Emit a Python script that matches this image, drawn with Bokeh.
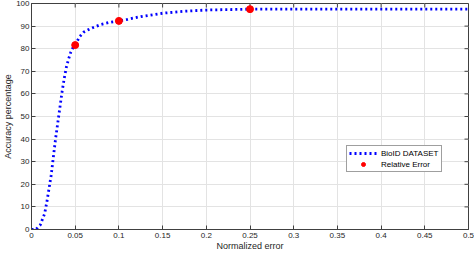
import math
from bokeh.plotting import figure
from bokeh.models import FixedTicker, Range1d, Legend, LegendItem
from bokeh.embed import file_html
from bokeh.resources import INLINE

# Curve data
err = [0, 0.005, 0.01, 0.015, 0.0175, 0.02, 0.0225, 0.025, 0.0275, 0.03, 0.0325,
       0.035, 0.0375, 0.04, 0.0425, 0.045, 0.0475, 0.05, 0.055, 0.06, 0.065, 0.07,
       0.08, 0.09, 0.1, 0.11, 0.125, 0.15, 0.175, 0.2, 0.225, 0.25, 0.3, 0.35,
       0.4, 0.45, 0.5]
acc = [0, 0, 2, 7, 12, 18, 24, 32, 40, 47, 54, 61, 67, 72, 75.5, 78.5, 80.5,
       81.6, 85.3, 87.4, 88.4, 89.3, 90.8, 91.7, 92.3, 93.0, 94.2, 95.7, 96.6,
       97.1, 97.3, 97.5, 97.5, 97.5, 97.5, 97.5, 97.5]

# Relative error markers
rel_x = [0.05, 0.1, 0.25]
rel_y = [81.6, 92.3, 97.5]

x_ticks = [0, 0.05, 0.1, 0.15, 0.2, 0.25, 0.3, 0.35, 0.4, 0.45, 0.5]
x_tick_labels = ["0", "0.05", "0.1", "0.15", "0.2", "0.25", "0.3", "0.35", "0.4", "0.45", "0.5"]
y_ticks = [0, 10, 20, 30, 40, 50, 60, 70, 80, 90, 100]
y_tick_labels = ["0", "10", "20", "30", "40", "50", "60", "70", "80", "90", "100"]

FONT = "Liberation Sans"
TXT = "#262626"
AX = "#404040"

p = figure(width=474, height=253, output_backend="svg", toolbar_location=None,
           x_range=Range1d(0, 0.5), y_range=Range1d(0, 100),
           min_border_left=28, min_border_right=6, min_border_top=3, min_border_bottom=22,
           x_axis_label="Normalized error", y_axis_label="Accuracy percentage")
p.background_fill_color = "white"
p.border_fill_color = "white"
p.outline_line_color = AX
p.outline_line_width = 1

for ax, ticks, labels in ((p.xaxis[0], x_ticks, x_tick_labels), (p.yaxis[0], y_ticks, y_tick_labels)):
    ax.ticker = FixedTicker(ticks=ticks)
    ax.major_label_overrides = {t: l for t, l in zip(ticks, labels)}
    ax.major_tick_in = 4
    ax.major_tick_out = 0
    ax.minor_tick_in = 0
    ax.minor_tick_out = 0
    ax.axis_line_color = AX
    ax.major_tick_line_color = AX
    ax.major_label_text_font = FONT
    ax.major_label_text_font_size = "8px"
    ax.major_label_text_color = TXT
    ax.axis_label_text_font = FONT
    ax.axis_label_text_font_size = "9px"
    ax.axis_label_text_font_style = "normal"
    ax.axis_label_text_color = TXT

p.xaxis.major_label_standoff = 3
p.xaxis.axis_label_standoff = 0
p.yaxis.major_label_standoff = 2
p.yaxis.axis_label_standoff = 0

p.grid.grid_line_color = "#e3e3e3"
p.grid.grid_line_width = 1
p.xgrid.ticker = FixedTicker(ticks=x_ticks)
p.ygrid.ticker = FixedTicker(ticks=y_ticks)

# mirrored inward ticks on top and right edges
p.ray(x=x_ticks, y=[100] * len(x_ticks), length=4, length_units="screen",
      angle=-math.pi / 2, line_color=AX, line_width=1)
p.ray(x=[0.5] * len(y_ticks), y=y_ticks, length=4, length_units="screen",
      angle=math.pi, line_color=AX, line_width=1)

line = p.line(err, acc, line_color="#0000ff", line_width=2.8, line_dash="2 3")
dots = p.scatter(rel_x, rel_y, size=7, fill_color="#ff0000", line_color="#ff0000")

legend = Legend(items=[LegendItem(label="BioID DATASET", renderers=[line]),
                       LegendItem(label="Relative Error", renderers=[dots])],
                location=(315, 57), orientation="vertical")
legend.label_text_font = FONT
legend.label_text_font_size = "8px"
legend.label_text_color = "#000000"
legend.label_height = 10
legend.glyph_height = 10
legend.glyph_width = 28
legend.label_standoff = 4
legend.padding = 2
legend.spacing = 1
legend.margin = 0
legend.border_line_color = AX
legend.border_line_width = 1
legend.background_fill_alpha = 1
p.add_layout(legend, "center")

open("out.html", "w").write(file_html(p, INLINE))
